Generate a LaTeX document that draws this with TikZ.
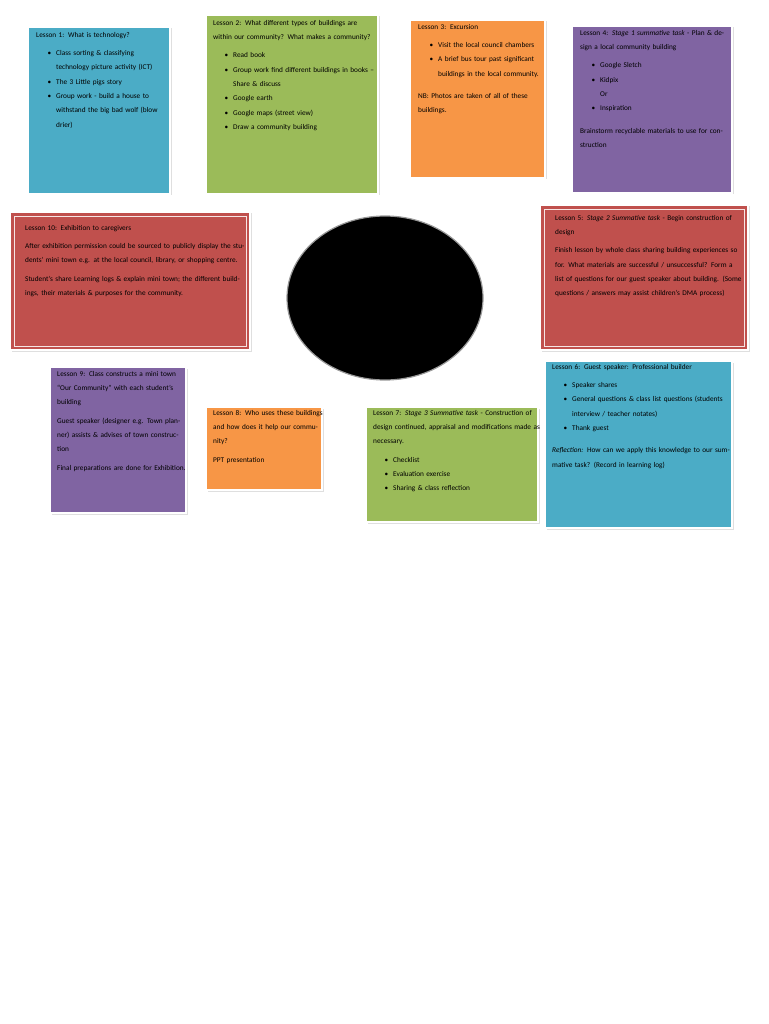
\documentclass[tikz,border=0pt]{standalone}
\usepackage{fontspec}
\setmainfont{Carlito}
\usepackage{enumitem}
\usetikzlibrary{shadows}
\setlist[itemize]{leftmargin=20pt,itemsep=0pt,parsep=0pt,topsep=4pt,label=\textbullet}
\definecolor{lblue}{RGB}{75,172,198}
\definecolor{lgreen}{RGB}{155,187,89}
\definecolor{lorange}{RGB}{247,150,70}
\definecolor{lpurple}{RGB}{128,100,162}
\definecolor{lred}{RGB}{192,80,77}
\tikzset{
  card/.style={draw=white,line width=1.2pt,drop shadow={opacity=0.25,shadow xshift=1.5pt,shadow yshift=-1.5pt}},
  frame/.style={draw=white!85!lred,line width=0.8pt},
  txt/.style={anchor=north west,inner sep=0pt,align=left,font=\fontsize{7.3}{14.3}\selectfont}
}
\begin{document}
\begin{tikzpicture}[x=1pt,y=-1pt]
\useasboundingbox (0,0) rectangle (768,1024);
\fill[white] (0,0) rectangle (768,1024);

%Lesson boxes
\filldraw[card,fill=lblue] (28,27) rectangle (170,194);
\filldraw[card,fill=lgreen] (206,15) rectangle (378,194);
\filldraw[card,fill=lorange] (410,20) rectangle (545,178);
\filldraw[card,fill=lpurple] (572,26) rectangle (732,193);
\filldraw[card,fill=lred] (10,212) rectangle (250,350);
\draw[frame] (14,216) rectangle (246,346);
\filldraw[card,fill=lred] (540,205) rectangle (748,350);
\draw[frame] (544,209) rectangle (744,346);
\filldraw[card,fill=lpurple] (50,367) rectangle (186,513);
\filldraw[card,fill=lorange] (206,407) rectangle (322,490);
\filldraw[card,fill=lgreen] (366,407) rectangle (538,522);
\filldraw[card,fill=lblue] (545,361) rectangle (732,528);

%KLA circle
\filldraw[fill=black,draw=black!40,line width=1.2pt] (385,298) ellipse (98 and 82);

% Text Node
\node[txt,text width=128pt] (l1) at (36,32) {Lesson 1: What is technology?
\begin{itemize}
\item Class sorting \& classifying technology picture activity (ICT)
\item The 3 Little pigs story
\item Group work - build a house to withstand the big bad wolf (blow drier)
\end{itemize}};
% Text Node
\node[txt,text width=162pt] (l2) at (213,20) {Lesson 2: What different types of buildings are within our community? What makes a community?
\begin{itemize}
\item Read book
\item Group work find different buildings in books -- Share \& discuss
\item Google earth
\item Google maps (street view)
\item Draw a community building
\end{itemize}};
% Text Node
\node[txt,text width=128pt] (l3) at (418,24) {Lesson 3: Excursion
\begin{itemize}
\item Visit the local council chambers
\item A brief bus tour past significant buildings in the local community.
\end{itemize}
\vspace{4pt}NB: Photos are taken of all of these buildings.};
% Text Node
\node[txt,text width=152pt] (l4) at (580,30) {Lesson 4: \textit{Stage 1 summative task} - Plan \& design a local community building
\begin{itemize}
\item Google Sletch
\item Kidpix\\ Or
\item Inspiration
\end{itemize}
\vspace{4pt}Brainstorm recyclable materials to use for construction};
% Text Node
\node[txt,text width=220pt] (l10) at (25,225) {Lesson 10: Exhibition to caregivers\\[4pt]
After exhibition permission could be sourced to publicly display the students' mini town e.g. at the local council, library, or shopping centre.\\[4pt]
Student's share Learning logs \& explain mini town; the different buildings, their materials \& purposes for the community.};
% Text Node
\node[txt,text width=190pt] (l5) at (555,215) {Lesson 5: \textit{Stage 2 Summative task} - Begin construction of design\\[4pt]
Finish lesson by whole class sharing building experiences so for. What materials are successful / unsuccessful? Form a list of questions for our guest speaker about building. (Some questions / answers may assist children's DMA process)};
% Text Node
\node[txt,text width=110pt] (kla) at (322,243) {\centering KLA:\par
\begin{itemize}[topsep=2pt]
\item Technology \& Design (including ICT)
\item Geography
\item SOSE
\item Maths
\item English
\end{itemize}};
\node at (kla) {}; 
% Text Node
\node[txt,text width=130pt] (l9) at (57,371) {Lesson 9: Class constructs a mini town ``Our Community'' with each student's building\\[4pt]
Guest speaker (designer e.g. Town planner) assists \& advises of town construction\\[4pt]
Final preparations are done for Exhibition.};
% Text Node
\node[txt,text width=110pt] (l8) at (213,410) {Lesson 8: Who uses these buildings and how does it help our community?\\[4pt]
PPT presentation};
% Text Node
\node[txt,text width=168pt] (l7) at (373,410) {Lesson 7: \textit{Stage 3 Summative task} - Construction of design continued, appraisal and modifications made as necessary.
\begin{itemize}
\item Checklist
\item Evaluation exercise
\item Sharing \& class reflection
\end{itemize}};
% Text Node
\node[txt,text width=180pt] (l6) at (552,364) {Lesson 6: Guest speaker: Professional builder
\begin{itemize}
\item Speaker shares
\item General questions \& class list questions (students interview / teacher notates)
\item Thank guest
\end{itemize}
\vspace{4pt}\textit{Reflection:} How can we apply this knowledge to our summative task? (Record in learning log)};
\end{tikzpicture}
\end{document}
